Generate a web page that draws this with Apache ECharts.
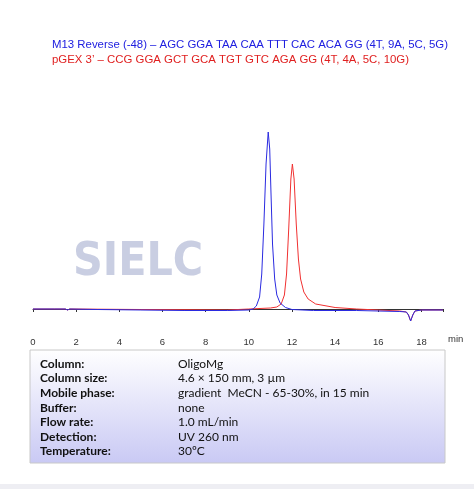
<!DOCTYPE html>
<html><head><meta charset="utf-8">
<script src="https://cdn.jsdelivr.net/npm/echarts@6/dist/echarts.min.js"></script>
<style>html,body{margin:0;padding:0;background:#fff}#c{width:474px;height:489px}</style>
</head><body><div id="c"></div>
<script>
const titleBlue = "M13 Reverse (-48) – AGC GGA TAA CAA TTT CAC ACA GG (4T, 9A, 5C, 5G)";
const titleRed = "pGEX 3’ – CCG GGA GCT GCA TGT GTC AGA GG (4T, 4A, 5C, 10G)";
const blueData = [[0,0],[1,0],[1.5,0],[1.55,2],[1.6,-1],[1.7,0],[3,-0.5],[5,-1],[7,-1.5],[9,-1.5],[10,-1],[10.2,0],[10.35,3],[10.5,12],[10.6,35],[10.7,85],[10.8,145],[10.9,177],[10.97,160],[11.03,115],[11.1,65],[11.2,30],[11.3,14],[11.45,6],[11.7,1.5],[12,-0.5],[13,-1.5],[14,-1.5],[15,-1.5],[16,-2],[17,-2.5],[17.3,-3],[17.4,-6],[17.5,-12],[17.6,-6],[17.7,-2],[18,-1],[19,-1]];
const redData = [[0,0],[1.5,0],[1.55,2],[1.6,-1],[1.7,0],[5,-0.5],[9,-1],[10,0],[11,1],[11.3,2],[11.5,5],[11.65,14],[11.75,35],[11.85,80],[11.95,130],[12.02,145],[12.1,130],[12.2,85],[12.3,50],[12.4,30],[12.55,17],[12.75,10],[13.1,5],[14,1.5],[15,0],[16,-1],[17,-2],[17.3,-3],[17.4,-6],[17.5,-12],[17.6,-6],[17.7,-2],[18,-1],[19,-1]];
const tableLabels = ["Column:","Column size:","Mobile phase:","Buffer:","Flow rate:","Detection:","Temperature:"];
const tableValues = ["OligoMg","4.6 × 150 mm, 3 µm","gradient  MeCN - 65-30%, in 15 min","none","1.0 mL/min","UV 260 nm","30ºC"];

const chart = echarts.init(document.getElementById('c'));
const g = [
  {type:'rect',shape:{x:0,y:484,width:474,height:5},style:{fill:'#eeeef3'},z:0},
  {type:'text',left:73,top:240,style:{text:'SIELC',font:'bold 46px "Liberation Sans Narrow", "DejaVu Sans Condensed"',fill:'#c9cee2'},z:0},
  {type:'rect',shape:{x:30,y:350,width:415,height:113},style:{fill:new echarts.graphic.LinearGradient(0,0,0,1,[{offset:0,color:'#ffffff'},{offset:1,color:'#c9c9f4'}]),stroke:'#c8c8c8',lineWidth:1},z:1},
  {type:'text',left:52,top:39,style:{text:titleBlue,font:'11.4px "Liberation Sans"',fill:'#2020e0'}},
  {type:'text',left:52,top:54,style:{text:titleRed,font:'11.4px "Liberation Sans"',fill:'#e02020'}},
  {type:'text',left:448,top:334,style:{text:'min',font:'9.5px "Liberation Sans"',fill:'#333'}}
];
tableLabels.forEach((t,i)=>{
  g.push({type:'text',left:40,top:358+i*14.6,style:{text:t,font:'bold 12px Lato',fill:'#111'},z:2});
  g.push({type:'text',left:178,top:358+i*14.6,style:{text:tableValues[i],font:'12px Lato',fill:'#111'},z:2});
});
chart.setOption({
  animation:false,
  graphic:g,
  grid:{left:33,right:31,top:120,bottom:158},
  xAxis:{type:'value',min:0,max:19,interval:2,
    axisLine:{lineStyle:{color:'#333'}},
    axisTick:{length:3,lineStyle:{color:'#333'}},
    splitLine:{show:false},
    axisLabel:{color:'#333',fontSize:9.5,fontFamily:'Liberation Sans',margin:6,
      formatter:v=>v>18?'':v}},
  yAxis:{type:'value',min:-22,max:189,show:false,splitLine:{show:false}},
  series:[
    {type:'line',data:redData,showSymbol:false,lineStyle:{color:'#f03030',width:1},z:3},
    {type:'line',data:blueData,showSymbol:false,lineStyle:{color:'#2a2ae0',width:1},z:4}
  ]
});
</script></body></html>
